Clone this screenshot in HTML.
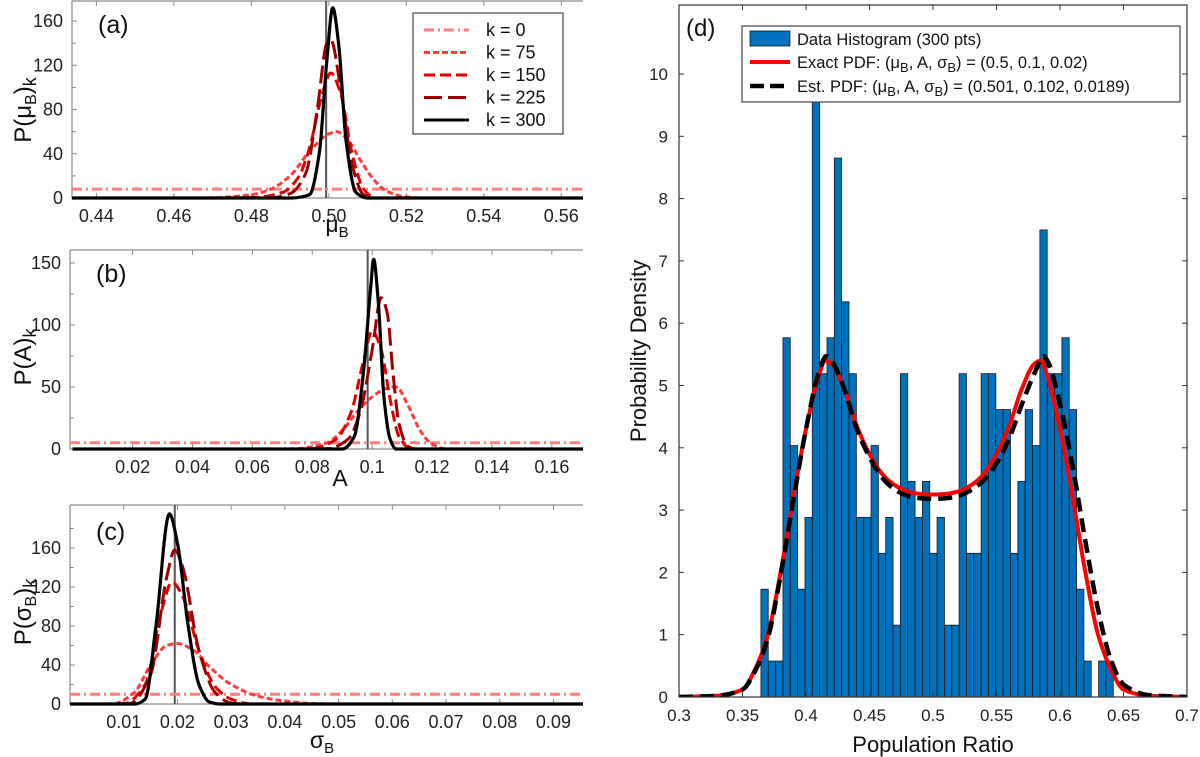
<!DOCTYPE html>
<html><head><meta charset="utf-8"><style>
html,body{margin:0;padding:0;background:#fff;}
svg{display:block;font-family:"Liberation Sans",sans-serif;}
</style></head><body>
<svg id="fig" width="1200" height="757" viewBox="0 0 1200 757"></svg>
<script>
// ---------- Panel (d) histogram data ----------
const histBinStart = 0.3645;
const histBinWidth = 0.00578;
const histCounts = [3,1,1,10,7,3,5,17,9,10,15,11,9,5,5,7,4,5,2,9,6,5,6,4,5,2,2,9,4,4,9,9,8,8,4,6,8,7,13,9,9,10,8,3,1,0,1,1];
const histTotal = 300;
const exactX = [0.30,0.33,0.35,0.36,0.37,0.38,0.39,0.40,0.41,0.415,0.42,0.43,0.44,0.45,0.46,0.47,0.48,0.49,0.50,0.51,0.52,0.53,0.54,0.55,0.56,0.57,0.58,0.585,0.59,0.60,0.61,0.62,0.63,0.64,0.65,0.67,0.70];
const exactY = [0,0.02,0.12,0.45,1.0,2.0,3.2,4.3,5.15,5.4,5.35,4.95,4.35,3.9,3.58,3.4,3.3,3.26,3.25,3.26,3.3,3.4,3.58,3.9,4.35,4.95,5.35,5.4,5.15,4.3,3.2,2.0,1.0,0.45,0.12,0.02,0];
const estX = [0.30,0.33,0.35,0.36,0.37,0.38,0.39,0.40,0.41,0.416,0.42,0.43,0.44,0.45,0.46,0.47,0.48,0.49,0.50,0.51,0.52,0.53,0.54,0.55,0.56,0.57,0.58,0.587,0.59,0.60,0.61,0.62,0.63,0.64,0.65,0.67,0.70];
const estY = [0,0.02,0.12,0.42,0.95,1.95,3.15,4.3,5.2,5.47,5.4,4.95,4.3,3.85,3.52,3.33,3.23,3.19,3.18,3.19,3.23,3.32,3.48,3.75,4.15,4.7,5.2,5.47,5.4,4.7,3.7,2.5,1.4,0.6,0.2,0.03,0];
const dXTicks = [0.3,0.35,0.4,0.45,0.5,0.55,0.6,0.65,0.7];
const dXTickLabels = ["0.3","0.35","0.4","0.45","0.5","0.55","0.6","0.65","0.7"];
const dYTicks = [0,1,2,3,4,5,6,7,8,9,10];

// ---------- Panel (a) ----------
const aXTicks = [0.44,0.46,0.48,0.50,0.52,0.54,0.56];
const aXTickLabels = ["0.44","0.46","0.48","0.50","0.52","0.54","0.56"];
const aYTicks = [0,40,80,120,160];
const aTrue = 0.4993;
const aK0Level = 8;
const aK75X = [0.4337,0.465,0.47,0.48,0.485,0.49,0.495,0.5,0.502,0.505,0.508,0.512,0.515,0.52,0.525,0.53,0.5656];
const aK75Y = [0,0,0.3,3,8,20,42,58,60,52,35,15,6,1,0,0,0];
const aK150X = [0.4337,0.47,0.48,0.488,0.492,0.495,0.498,0.5005,0.503,0.506,0.509,0.512,0.52,0.5656];
const aK150Y = [0,0,0.3,5,18,45,90,113,95,40,8,0,0,0];
const aK225X = [0.4337,0.47,0.485,0.49,0.494,0.497,0.4995,0.5005,0.503,0.506,0.509,0.512,0.52,0.5656];
const aK225Y = [0,0,0.3,4,22,80,140,143,100,30,3,0,0,0];
const aK300X = [0.4337,0.49,0.495,0.4975,0.4995,0.501,0.5025,0.5045,0.507,0.51,0.5656];
const aK300Y = [0,0,3,40,125,172,140,50,5,0,0];

// ---------- Panel (b) ----------
const bXTicks = [0.02,0.04,0.06,0.08,0.1,0.12,0.14,0.16];
const bXTickLabels = ["0.02","0.04","0.06","0.08","0.1","0.12","0.14","0.16"];
const bYTicks = [0,50,100,150];
const bTrue = 0.0985;
const bK0Level = 5;
const bK75X = [0,0.07,0.075,0.085,0.09,0.095,0.1,0.105,0.108,0.112,0.116,0.12,0.125,0.13,0.1704];
const bK75Y = [0,0,0.3,5,15,30,42,49,50,35,15,4,0,0,0];
const bK150X = [0,0.075,0.08,0.088,0.093,0.097,0.1,0.103,0.106,0.109,0.113,0.12,0.1704];
const bK150Y = [0,0,0.3,8,30,70,95,80,40,10,0,0,0];
const bK225X = [0,0.08,0.085,0.092,0.096,0.1,0.103,0.105,0.107,0.109,0.112,0.115,0.12,0.1704];
const bK225Y = [0,0,0.3,8,30,80,122,110,60,20,2,0,0,0];
const bK300X = [0,0.09,0.094,0.097,0.0995,0.1005,0.102,0.104,0.106,0.108,0.1704];
const bK300Y = [0,0,10,60,130,153,120,40,8,0,0];

// ---------- Panel (c) ----------
const cXTicks = [0.01,0.02,0.03,0.04,0.05,0.06,0.07,0.08,0.09];
const cXTickLabels = ["0.01","0.02","0.03","0.04","0.05","0.06","0.07","0.08","0.09"];
const cYTicks = [0,40,80,120,160];
const cTrue = 0.0195;
const cK0Level = 10;
const cK75X = [0,0.005,0.008,0.012,0.015,0.018,0.02,0.023,0.026,0.03,0.035,0.04,0.045,0.05,0.055,0.0955];
const cK75Y = [0,0,0.3,12,40,60,62,55,38,20,8,3,0.5,0,0,0];
const cK150X = [0,0.006,0.01,0.014,0.017,0.019,0.021,0.024,0.027,0.03,0.034,0.04,0.0955];
const cK150Y = [0,0,0.3,20,95,125,110,55,18,5,0,0,0];
const cK225X = [0,0.007,0.011,0.015,0.018,0.0195,0.021,0.024,0.027,0.03,0.032,0.04,0.0955];
const cK225Y = [0,0,0.3,30,130,158,140,55,12,1,0,0,0];
const cK300X = [0,0.012,0.014,0.016,0.0185,0.02,0.022,0.024,0.026,0.028,0.0955];
const cK300Y = [0,0,5,80,195,165,80,20,2,0,0];

const NS = "http://www.w3.org/2000/svg";
const svg = document.getElementById('fig');
function mk(tag, attrs, parent){
  const e = document.createElementNS(NS, tag);
  for (const k in attrs) e.setAttribute(k, attrs[k]);
  (parent||svg).appendChild(e);
  return e;
}
function scale(d0,d1,p0,p1){ return v => p0 + (v-d0)/(d1-d0)*(p1-p0); }
// monotone cubic (Fritsch-Carlson) sampled into a polyline
function smoothPath(xs, ys, sx, sy){
  const n = xs.length;
  const d = [], m = new Array(n);
  for (let i=0;i<n-1;i++) d.push((ys[i+1]-ys[i])/(xs[i+1]-xs[i]));
  m[0]=d[0]; m[n-1]=d[n-2];
  for (let i=1;i<n-1;i++){
    if (d[i-1]*d[i] <= 0) m[i]=0;
    else { const w1=2*(xs[i+1]-xs[i])+(xs[i]-xs[i-1]), w2=(xs[i+1]-xs[i])+2*(xs[i]-xs[i-1]); m[i]=(w1+w2)/(w1/d[i-1]+w2/d[i]); }
  }
  for (let i=0;i<n-1;i++){ if (d[i]===0){ m[i]=0; m[i+1]=0; } }
  let path = "M"+sx(xs[0]).toFixed(2)+","+sy(ys[0]).toFixed(2);
  for (let i=0;i<n-1;i++){
    const h = xs[i+1]-xs[i];
    const steps = 12;
    for (let s=1;s<=steps;s++){
      const t = s/steps, t2=t*t, t3=t2*t;
      const y = (2*t3-3*t2+1)*ys[i] + (t3-2*t2+t)*h*m[i] + (-2*t3+3*t2)*ys[i+1] + (t3-t2)*h*m[i+1];
      const x = xs[i]+t*h;
      path += " L"+sx(x).toFixed(2)+","+sy(y).toFixed(2);
    }
  }
  return path;
}
const seriesStyles = [
  {name:'k = 0', color:'#ff7f7f', dash:'10,4,2,4', w:3},
  {name:'k = 75', color:'#ff3b3b', dash:'6,3', w:3},
  {name:'k = 150', color:'#e00000', dash:'11,5', w:3},
  {name:'k = 225', color:'#9e0000', dash:'18,6', w:3},
  {name:'k = 300', color:'#000000', dash:'', w:3.2}
];

function leftPanel(cfg){
  const sx = scale(cfg.xd[0], cfg.xd[1], cfg.px[0], cfg.px[1]);
  const sy = scale(0, 1, cfg.y0, cfg.y0 - cfg.ppu);
  const g = mk('g', {});
  
  
  const clipId = 'clip'+cfg.id;
  const cp = mk('clipPath', {id:clipId}, g);
  mk('rect', {x:cfg.px[0], y:cfg.top, width:cfg.px[1]-cfg.px[0], height:cfg.y0-cfg.top+6}, cp);
  const ax = mk('path', {d:`M${cfg.px[0]},${cfg.top} H${cfg.px[1]} M${cfg.px[0]},${cfg.top} V${cfg.y0} H${cfg.px[1]}`, stroke:'#8a8a8a', 'stroke-width':1.2, fill:'none'}, g);
  
  
  cfg.xt.forEach((t,i)=>{
    const x = sx(t);
    mk('line', {x1:x, x2:x, y1:cfg.top, y2:cfg.top+5, stroke:'#8a8a8a', 'stroke-width':1}, g);
    mk('line', {x1:x, x2:x, y1:cfg.y0, y2:cfg.y0-5, stroke:'#8a8a8a', 'stroke-width':1}, g);
    const tx = mk('text', {x:x, y:cfg.y0+24, 'font-size':18, 'text-anchor':'middle', fill:'#222'}, g);
    tx.textContent = cfg.xl[i];
    
    
  });
  cfg.yt.forEach((t,i)=>{
    const y = sy(t);
    mk('line', {x1:cfg.px[0], x2:cfg.px[0]+5, y1:y, y2:y, stroke:'#8a8a8a', 'stroke-width':1}, g);
    const ty = mk('text', {x:cfg.px[0]-9, y:y+6, 'font-size':18, 'text-anchor':'end', fill:'#222'}, g);
    ty.textContent = String(t);
    
    
    const ym = sy(t + (cfg.yt[1]-cfg.yt[0])/2);
    if (ym > cfg.top) mk('line', {x1:cfg.px[0], x2:cfg.px[0]+4, y1:ym, y2:ym, stroke:'#8a8a8a', 'stroke-width':1}, g);
  });
  const cg = mk('g', {'clip-path':`url(#${clipId})`}, g);
  const tl = mk('line', {x1:sx(cfg.trueV), x2:sx(cfg.trueV), y1:cfg.top, y2:cfg.y0, stroke:'#555', 'stroke-width':2}, cg);
  
  
  const s0 = seriesStyles[0];
  const f = mk('line', {x1:cfg.px[0], x2:cfg.px[1], y1:sy(cfg.k0), y2:sy(cfg.k0), stroke:s0.color, 'stroke-width':s0.w, 'stroke-dasharray':s0.dash}, cg);
  
  
  cfg.series.forEach((s,i)=>{
    const st = seriesStyles[i+1];
    const p = mk('path', {d:smoothPath(s[0], s[1], sx, sy), stroke:st.color, 'stroke-width':st.w, fill:'none', 'stroke-dasharray':st.dash, 'stroke-linejoin':'round'}, cg);
    
    
  });
  const lab = mk('text', {x:cfg.px[0]+26, y:cfg.labY, 'font-size':25, fill:'#111'}, g);
  lab.textContent = '('+cfg.id+')';
  
  
  const yl = mk('text', {transform:`translate(31,${cfg.yLabY}) rotate(-90)`, 'font-size':24, 'text-anchor':'middle', fill:'#111'}, g);
  yl.innerHTML = cfg.yLabel;
  
  
  const xl = mk('text', {x:cfg.xLabX, y:cfg.xLabY, 'font-size':23, 'text-anchor':'middle', fill:'#111'}, g);
  xl.innerHTML = cfg.xLabel;
  
  
}

leftPanel({id:'a', xd:[0.4337,0.5656], px:[72,583], y0:198, ppu:1.106, top:1,
  xt:aXTicks, xl:aXTickLabels, yt:aYTicks, trueV:aTrue, k0:aK0Level,
  series:[[aK75X,aK75Y],[aK150X,aK150Y],[aK225X,aK225Y],[aK300X,aK300Y]],
  labY:33, yLabY:110, yLabel:'P(μ<tspan font-size="16" dy="5">B</tspan><tspan dy="-5">)</tspan><tspan font-size="18" dy="5">k</tspan>',
  xLabX:337, xLabY:232, xLabel:'μ<tspan font-size="15" dy="5">B</tspan>'});
leftPanel({id:'b', xd:[-0.0009,0.1704], px:[70,583], y0:449, ppu:1.24, top:250,
  xt:bXTicks, xl:bXTickLabels, yt:bYTicks, trueV:bTrue, k0:bK0Level,
  series:[[bK75X,bK75Y],[bK150X,bK150Y],[bK225X,bK225Y],[bK300X,bK300Y]],
  labY:282, yLabY:357, yLabel:'P(A)<tspan font-size="18" dy="5">k</tspan>',
  xLabX:340, xLabY:486, xLabel:'A'});
leftPanel({id:'c', xd:[0,0.0955], px:[70,583], y0:704, ppu:0.975, top:505,
  xt:cXTicks, xl:cXTickLabels, yt:cYTicks, trueV:cTrue, k0:cK0Level,
  series:[[cK75X,cK75Y],[cK150X,cK150Y],[cK225X,cK225Y],[cK300X,cK300Y]],
  labY:540, yLabY:612, yLabel:'P(σ<tspan font-size="16" dy="5">B</tspan><tspan dy="-5">)</tspan><tspan font-size="18" dy="5">k</tspan>',
  xLabX:322, xLabY:748, xLabel:'σ<tspan font-size="15" dy="5">B</tspan>'});

(function(){
  const lg = mk('g', {});
  
  
  mk('rect', {x:413, y:13, width:150, height:121, fill:'#fff', stroke:'#444', 'stroke-width':1.2}, lg);
  seriesStyles.forEach((s,i)=>{
    const y = 30 + i*22.5;
    const e = mk('g', {}, lg);
    
    
    mk('line', {x1:424, x2:469, y1:y, y2:y, stroke:s.color, 'stroke-width':3, 'stroke-dasharray':s.dash}, e);
    const t = mk('text', {x:486, y:y+6, 'font-size':18, fill:'#111'}, e);
    t.textContent = s.name;
  });
})();

// ---------- Panel (d) ----------
(function(){
  const L=679, R=1187, T=5, B=697;
  const sx = scale(0.3, 0.7, L, R);
  const sy = scale(0, 10, B, 74);
  const g = mk('g', {});
  
  
  const cp = mk('clipPath', {id:'clipd'}, g);
  mk('rect', {x:L, y:T, width:R-L, height:B-T}, cp);
  const bars = mk('g', {}, g);
  
  
  histCounts.forEach((c,i)=>{
    if (c === 0) return;
    const x0 = histBinStart + i*histBinWidth;
    const dens = c/(histTotal*histBinWidth);
    const r = mk('rect', {x:sx(x0), y:sy(dens), width:sx(x0+histBinWidth)-sx(x0), height:B-sy(dens), fill:'#0072BD', stroke:'#1a1a1a', 'stroke-width':0.8}, bars);
    
    
  });
  const cg = mk('g', {'clip-path':'url(#clipd)'}, g);
  const ex = mk('path', {d:smoothPath(exactX, exactY, sx, sy), stroke:'#ff0000', 'stroke-width':4, fill:'none'}, cg);
  
  
  const es = mk('path', {d:smoothPath(estX, estY, sx, sy), stroke:'#000', 'stroke-width':4.5, fill:'none', 'stroke-dasharray':'14,7'}, cg);
  
  
  const fr = mk('rect', {x:L, y:T, width:R-L, height:B-T, fill:'none', stroke:'#333', 'stroke-width':1.2}, g);
  
  
  dXTicks.forEach((t,i)=>{
    const x = sx(t);
    mk('line', {x1:x, x2:x, y1:B, y2:B-5, stroke:'#333'}, g);
    mk('line', {x1:x, x2:x, y1:T, y2:T+5, stroke:'#333'}, g);
    const tx = mk('text', {x:x, y:B+24, 'font-size':17, 'text-anchor':'middle', fill:'#222'}, g);
    tx.textContent = dXTickLabels[i];
    
    
  });
  dYTicks.forEach(t=>{
    const y = sy(t);
    mk('line', {x1:L, x2:L+5, y1:y, y2:y, stroke:'#333'}, g);
    mk('line', {x1:R, x2:R-5, y1:y, y2:y, stroke:'#333'}, g);
    const ty = mk('text', {x:L-11, y:y+6, 'font-size':17, 'text-anchor':'end', fill:'#222'}, g);
    ty.textContent = String(t);
    
    
  });
  const xl = mk('text', {x:933, y:752, 'font-size':22, 'text-anchor':'middle', fill:'#111'}, g);
  xl.textContent = 'Population Ratio';
  
  
  const yl = mk('text', {transform:'translate(646,351) rotate(-90)', 'font-size':22, 'text-anchor':'middle', fill:'#111'}, g);
  yl.textContent = 'Probability Density';
  
  
  const pl = mk('text', {x:686, y:36, 'font-size':24, fill:'#111'}, g);
  pl.textContent = '(d)';
  
  
  const lg = mk('g', {}, g);
  
  
  mk('rect', {x:742, y:26, width:438, height:76, fill:'#fff', stroke:'#444', 'stroke-width':1.2}, lg);
  const e1 = mk('g', {}, lg);
  
  
  mk('rect', {x:750, y:31, width:40, height:15, fill:'#0072BD', stroke:'#1a1a1a', 'stroke-width':0.8}, e1);
  const t1 = mk('text', {x:797, y:45, 'font-size':16.5, fill:'#111'}, e1);
  t1.textContent = 'Data Histogram (300 pts)';
  const e2 = mk('g', {}, lg);
  
  
  mk('line', {x1:750, x2:790, y1:62, y2:62, stroke:'#ff0000', 'stroke-width':4}, e2);
  const t2 = mk('text', {x:797, y:68, 'font-size':16.5, fill:'#111'}, e2);
  t2.innerHTML = 'Exact PDF: (μ<tspan font-size="13" dy="4">B</tspan><tspan dy="-4">, A, σ</tspan><tspan font-size="13" dy="4">B</tspan><tspan dy="-4">) = (0.5, 0.1, 0.02)</tspan>';
  const e3 = mk('g', {}, lg);
  
  
  mk('line', {x1:750, x2:790, y1:86, y2:86, stroke:'#000', 'stroke-width':4.5, 'stroke-dasharray':'14,6'}, e3);
  const t3 = mk('text', {x:797, y:92, 'font-size':16.5, fill:'#111'}, e3);
  t3.innerHTML = 'Est. PDF: (μ<tspan font-size="13" dy="4">B</tspan><tspan dy="-4">, A, σ</tspan><tspan font-size="13" dy="4">B</tspan><tspan dy="-4">) = (0.501, 0.102, 0.0189)</tspan>';
})();
</script>
</body></html>
